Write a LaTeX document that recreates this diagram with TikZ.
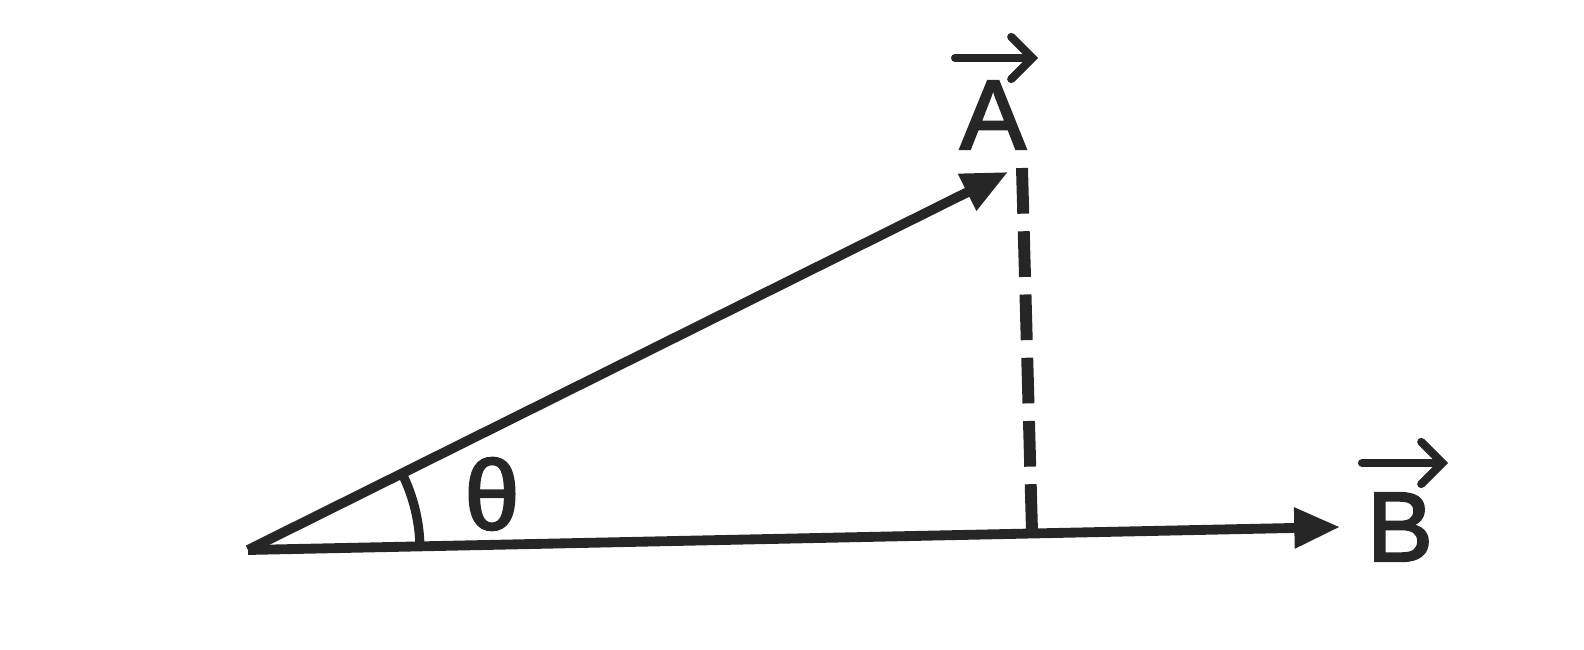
\documentclass[tikz,border=0pt]{standalone}
\usepackage{fontspec}
\setmainfont{Liberation Sans}[BoldFont={Liberation Sans}, BoldFeatures={FakeBold=2.5}]
\usetikzlibrary{arrows.meta,calc}
\definecolor{ink}{HTML}{262626}

\begin{document}
\begin{tikzpicture}[
    vec/.style={ink, line width=2.8pt, -{Triangle[length=13pt,width=11pt]}},
    proj/.style={ink, line width=3.4pt, dash pattern=on 13pt off 5pt},
    overarrow/.style={ink, line width=2.3pt, line cap=round, -{Straight Barb[length=6pt,width=12pt,line cap=round]}},
    lbl/.style={ink, font=\fontsize{28}{30}\selectfont\bfseries, inner sep=0pt}
]
    \useasboundingbox (0,0) rectangle (15.84,6.49);

    % Common tail and the two vectors
    \coordinate (O) at (2.48,0.99);
    \coordinate (Atip) at (10.08,4.77);
    \coordinate (Btip) at (13.40,1.22);
    \draw[vec] (O) -- (Atip);
    \draw[vec] (O) -- (Btip);

    % Projection of A onto B
    \coordinate (projtop) at (10.22,4.81);
    \coordinate (projfoot) at ($(O)!0.718!(Btip)$);
    \draw[proj] (projtop) -- (projfoot);

    % Angle between them
    \draw[ink, line width=2.6pt] ($(O)+(1.2:1.72)$) arc[start angle=1.2, end angle=26.4, radius=1.72];
    \node[lbl] (theta) at (4.92,1.55) {θ};

    % Labels
    \node[lbl] (labA) at (9.93,5.34) {A};
    \draw[overarrow] ([shift={(-0.38,0.57)}]labA.center) -- ++(0.83,0);
    \node[lbl] (labB) at (14.00,1.22) {B};
    \draw[overarrow] ([shift={(-0.38,0.64)}]labB.center) -- ++(0.86,0);
\end{tikzpicture}
\end{document}
